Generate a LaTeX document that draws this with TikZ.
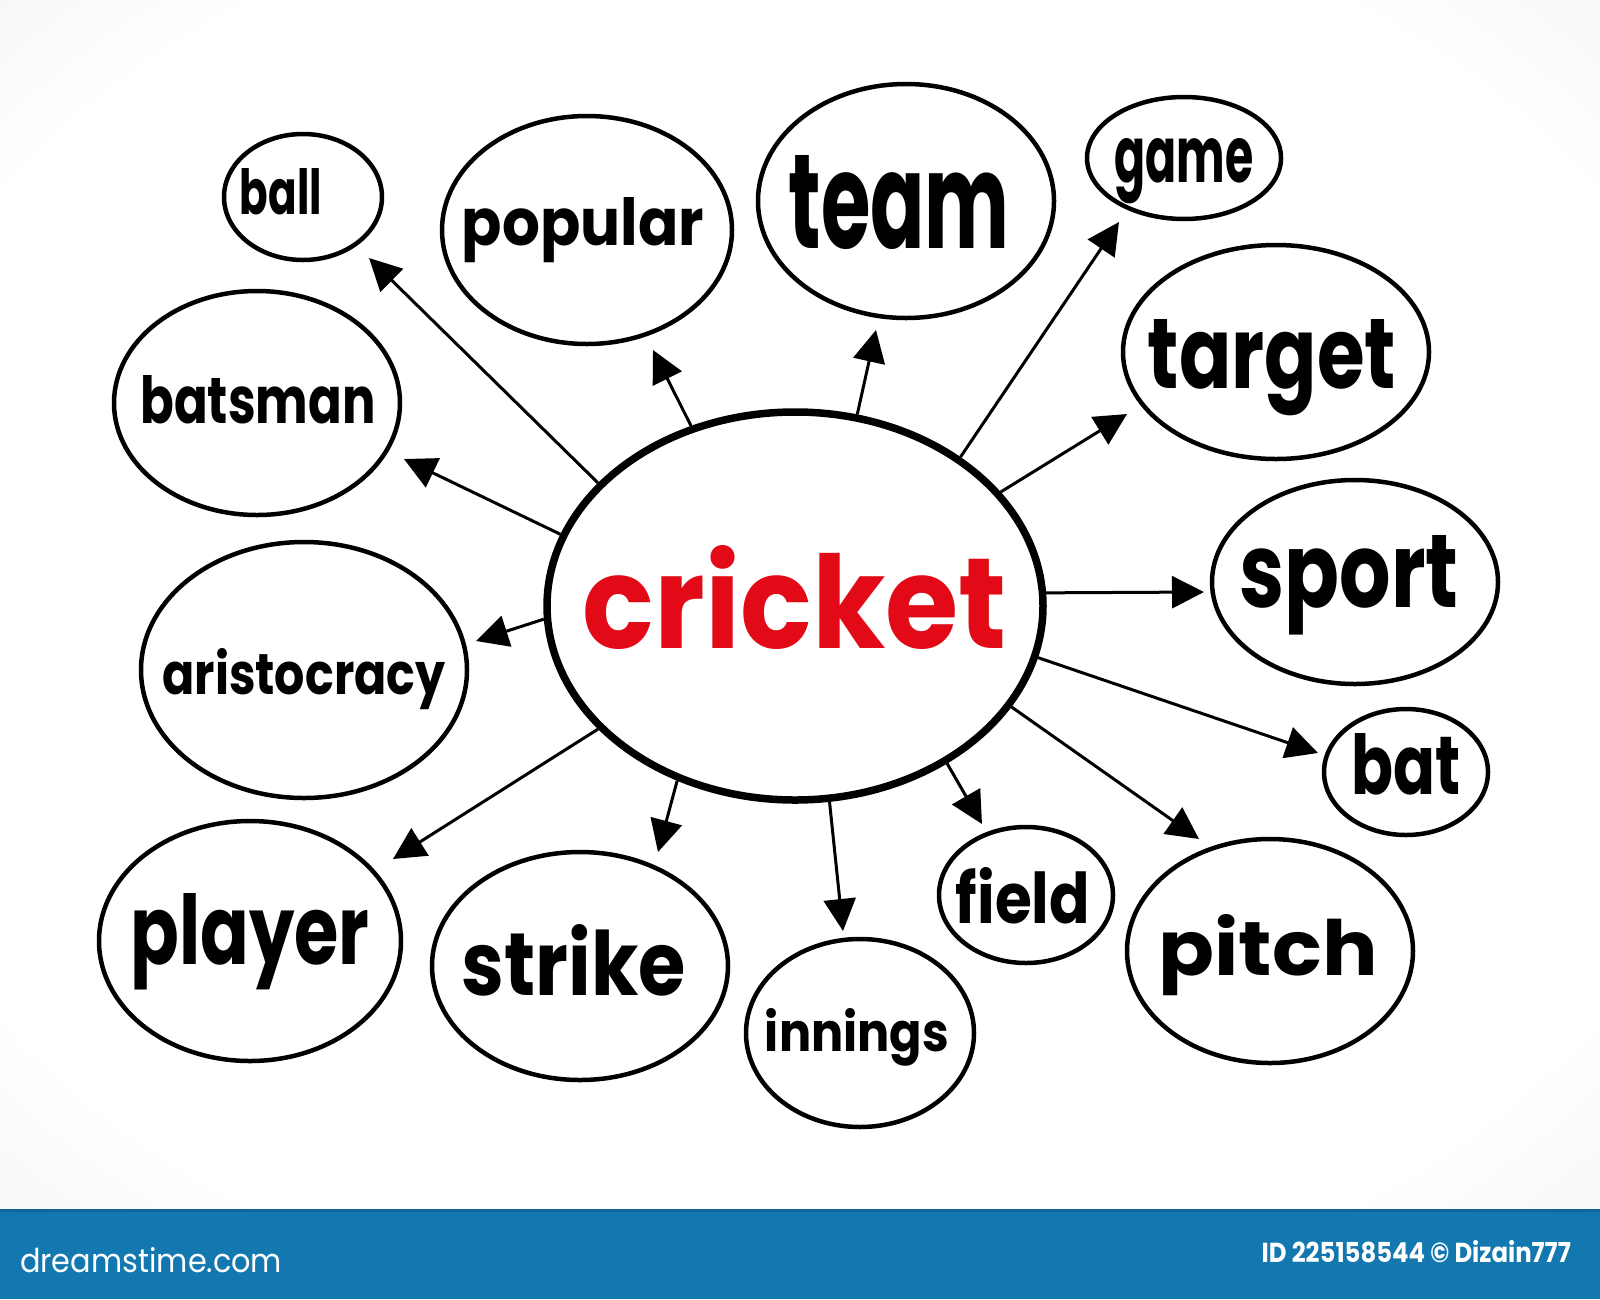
\documentclass[tikz,border=0pt]{standalone}
\usepackage{fontspec}
\setmainfont{Poppins}
\usetikzlibrary{shapes.geometric,arrows.meta}
\definecolor{crred}{RGB}{226,10,22}
\definecolor{foot}{RGB}{19,120,176}
\definecolor{bgedge}{RGB}{229,229,233}
\pgfdeclareradialshading{bgshade}{\pgfpoint{0bp}{0bp}}{color(0bp)=(white); color(30bp)=(white); color(50bp)=(bgedge); color(72bp)=(bgedge)}
\newcommand\fitlab[3]{\resizebox{#1pt}{#2pt}{\bfseries #3}}
\begin{document}
\begin{tikzpicture}[x=1pt,y=-1pt,
  bub/.style={ellipse,draw=black,line width=4.5pt,fill=white,inner sep=0pt},
  hub/.style={ellipse,draw=black,line width=7.5pt,fill=white,inner sep=0pt,minimum width=496pt,minimum height=388pt},
  lbl/.style={inner sep=0pt,text=black,anchor=base},
  arr/.style={line width=3pt,-{Triangle[length=32pt,width=32pt]}},
  foottext/.style={inner sep=0pt,text=white}
]
\useasboundingbox (0,0) rectangle (1600,1299);
\shade[shading=bgshade] (0,0) rectangle (1600,1209);
\fill[foot] (0,1209) rectangle (1600,1299);
\fill[foot!85!black] (0,1209) rectangle (1600,1212);

% bubbles
\node[hub] (hub) at (795,606) {};
\node[bub,minimum width=158pt,minimum height=126pt] (ball) at (303,197) {};
\node[bub,minimum width=290pt,minimum height=228pt] (popular) at (587,230) {};
\node[bub,minimum width=296pt,minimum height=234pt] (team) at (906,201) {};
\node[bub,minimum width=194pt,minimum height=122pt] (game) at (1184,158) {};
\node[bub,minimum width=306pt,minimum height=214pt] (target) at (1276,352) {};
\node[bub,minimum width=286pt,minimum height=204pt] (sport) at (1355,582) {};
\node[bub,minimum width=164pt,minimum height=126pt] (bat) at (1406,772) {};
\node[bub,minimum width=286pt,minimum height=224pt] (pitch) at (1270,951) {};
\node[bub,minimum width=174pt,minimum height=136pt] (field) at (1026,895) {};
\node[bub,minimum width=228pt,minimum height=188pt] (innings) at (860,1033) {};
\node[bub,minimum width=296pt,minimum height=228pt] (strike) at (580,966) {};
\node[bub,minimum width=302pt,minimum height=240pt] (player) at (250,941) {};
\node[bub,minimum width=326pt,minimum height=256pt] (aristocracy) at (304,670) {};
\node[bub,minimum width=286pt,minimum height=224pt] (batsman) at (257,403) {};

% labels
\node[lbl,text=crred] (lhub) at (795,648) {\fitlab{424}{103}{cricket}};
\node[lbl] (lball) at (281,214) {\fitlab{82}{46}{ball}};
\node[lbl] (lpopular) at (583,245) {\fitlab{242}{48}{popular}};
\node[lbl] (lteam) at (899,248) {\fitlab{221}{93}{team}};
\node[lbl] (lgame) at (1184,182) {\fitlab{139}{44}{game}};
\node[lbl] (ltarget) at (1272,388) {\fitlab{248}{69}{target}};
\node[lbl] (lsport) at (1349,607) {\fitlab{219}{72}{sport}};
\node[lbl] (lbat) at (1406,794) {\fitlab{109}{61}{bat}};
\node[lbl] (lpitch) at (1268,975) {\fitlab{219}{61}{pitch}};
\node[lbl] (lfield) at (1023,923) {\fitlab{134}{56}{field}};
\node[lbl] (linnings) at (857,1051) {\fitlab{184}{43}{innings}};
\node[lbl] (lstrike) at (574,995) {\fitlab{224}{71}{strike}};
\node[lbl] (lplayer) at (250,964) {\fitlab{239}{71}{player}};
\node[lbl] (laristocracy) at (304,694) {\fitlab{283}{46}{aristocracy}};
\node[lbl] (lbatsman) at (258,423) {\fitlab{235}{48}{batsman}};

% arrow tips
\coordinate (tball) at (369,258);
\coordinate (tpopular) at (653,350);
\coordinate (tteam) at (876,330);
\coordinate (tgame) at (1119,222);
\coordinate (ttarget) at (1127,414);
\coordinate (tsport) at (1204,592);
\coordinate (tbat) at (1318,753);
\coordinate (tpitch) at (1199,839);
\coordinate (tfield) at (982,824);
\coordinate (tinnings) at (843,931);
\coordinate (tstrike) at (658,852);
\coordinate (tplayer) at (393,859);
\coordinate (taristocracy) at (476,641);
\coordinate (tbatsman) at (404,459);

\draw[arr] (hub.148.6) -- (tball);
\draw[arr] (hub.120.1) -- (tpopular);
\draw[arr] (hub.72.2) -- (tteam);
\draw[arr] (hub.42.1) -- (tgame);
\draw[arr] (hub.29.4) -- (ttarget);
\draw[arr] (hub.3.6) -- (tsport);
\draw[arr] (hub.-12) -- (tbat);
\draw[arr] (hub.-25.5) -- (tpitch);
\draw[arr] (hub.-46.9) -- (tfield);
\draw[arr] (hub.-80.9) -- (tinnings);
\draw[arr] (hub.-124.1) -- (tstrike);
\draw[arr] (hub.-148.6) -- (tplayer);
\draw[arr] (hub.-177.4) -- (taristocracy);
\draw[arr] (hub.163.3) -- (tbatsman);

% footer
\node[foottext,anchor=base west] (dtime) at (20,1272) {\resizebox{262pt}{25pt}{dreamstime.com}};
\node[foottext,anchor=base east] (idtext) at (1571,1262) {\resizebox{309pt}{22pt}{\bfseries ID 225158544 © Dizain777}};
\end{tikzpicture}
\end{document}
